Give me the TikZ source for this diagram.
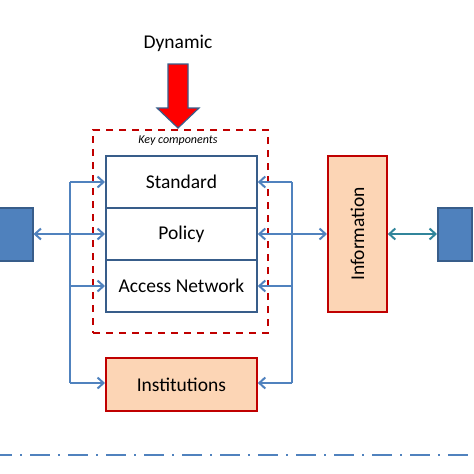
\documentclass[tikz,border=0pt]{standalone}
\usepackage{fontspec}
\setmainfont{Carlito}
\usetikzlibrary{arrows.meta}
\definecolor{bluefill}{RGB}{79,129,189}
\definecolor{blueedge}{RGB}{56,93,138}
\definecolor{linkblue}{RGB}{80,130,190}
\definecolor{teal}{RGB}{49,133,155}
\definecolor{salmon}{RGB}{252,213,181}
\definecolor{darkred}{RGB}{192,0,0}
\tikzset{
  x=1pt,y=-1pt,
  bluebox/.style={draw=blueedge,fill=bluefill,line width=1.5pt,minimum width=34pt,minimum height=53pt,inner sep=0pt},
  keybox/.style={draw=blueedge,fill=white,line width=1.8pt,minimum width=151pt,minimum height=52pt,inner sep=0pt,font=\fontsize{19.5}{22}\selectfont},
  salbox/.style={draw=darkred,fill=salmon,line width=1.8pt,inner sep=0pt,font=\fontsize{19.5}{22}\selectfont},
  link/.style={draw=linkblue,line width=2pt},
  tip/.style={-{Straight Barb[length=6pt,width=11pt,line width=2pt]}},
  tips/.style={{Straight Barb[length=6pt,width=11pt,line width=2pt]}-{Straight Barb[length=6pt,width=11pt,line width=2pt]}},
}
\begin{document}
\begin{tikzpicture}
\useasboundingbox (0,0) rectangle (474,474);
% blue side boxes
\node[bluebox,anchor=north west] (L) at (-2,207) {};
\node[bluebox,anchor=north west] (R) at (437,207) {};
% key components
\node[keybox,anchor=north west] (std) at (105,155) {Standard};
\node[keybox,anchor=north west] (pol) at (105,207) {Policy};
\node[keybox,anchor=north west] (acc) at (105,259) {Access Network};
\node[salbox,minimum width=59pt,minimum height=156pt,anchor=north west] (info) at (327,155) {};
\node[rotate=90,font=\fontsize{19.5}{22}\selectfont] (infot) at (info.center) {Information};
\node[salbox,minimum width=151pt,minimum height=53pt,anchor=north west] (inst) at (105,357) {Institutions};
% dashed box
\node[draw=darkred,dash pattern=on 7pt off 6pt,line width=2pt,minimum width=175pt,minimum height=203pt,anchor=north west,inner sep=0pt] (kc) at (92,129) {};
\node[font=\fontsize{12}{13}\selectfont\itshape] (kct) at (178,141) {Key components};
% dynamic
\node[font=\fontsize{19.5}{22}\selectfont] (dyn) at (178,43) {Dynamic};
\draw[fill=red,draw=blueedge,line width=1.2pt] (168,64) -- (188,64) -- (188,108) -- (199,108) -- (178,128) -- (157,108) -- (168,108) -- cycle;
% left bus
\coordinate (lb1) at (70,182);
\coordinate (lb2) at (70,234);
\coordinate (lb3) at (70,286);
\coordinate (lb4) at (70,383);
\draw[link] (lb1) -- (lb4);
\draw[link,tip] (lb1) -- (std.west|-lb1);
\draw[link,tip] (lb2) -- (pol.west|-lb2);
\draw[link,tip] (lb3) -- (acc.west|-lb3);
\draw[link,tip] (lb4) -- (inst.west|-lb4);
\draw[link,tip] (lb2) -- (L.east|-lb2);
% right bus
\coordinate (rb1) at (292,182);
\coordinate (rb2) at (292,234);
\coordinate (rb3) at (292,286);
\coordinate (rb4) at (292,383);
\draw[link] (rb1) -- (rb4);
\draw[link,tip] (rb1) -- (std.east|-rb1);
\draw[link,tip] (rb3) -- (acc.east|-rb3);
\draw[link,tip] (rb4) -- (inst.east|-rb4);
\draw[link,tips] (pol.east|-rb2) -- (info.west|-rb2);
% info to right
\draw[draw=teal,line width=2pt,tips] (info.east|-rb2) -- (R.west|-rb2);
% dash-dot line
\coordinate (d0) at (0,455);
\coordinate (d1) at (474,455);
\draw[draw=linkblue,line width=2pt,dash pattern=on 20pt off 8pt on 2pt off 8pt,dash phase=8pt] (d0) -- (d1);
\end{tikzpicture}
\end{document}
